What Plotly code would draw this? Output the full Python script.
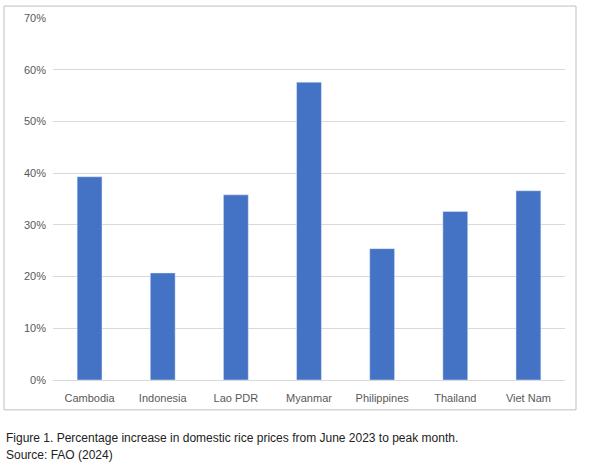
import plotly.graph_objects as go

countries = ["Cambodia", "Indonesia", "Lao PDR", "Myanmar", "Philippines", "Thailand", "Viet Nam"]
increase = [39.3, 20.7, 35.8, 57.6, 25.4, 32.6, 36.6]
yticks = [0, 10, 20, 30, 40, 50, 60, 70]
ytick_labels = [f"{v}%" for v in yticks]

W, H = 594, 466
L, T = 53, 16
pw, ph = 565 - 53, 380 - 16
R, B = W - L - pw, H - T - ph

def py(y):
    return (380 - y) / ph

def px(x):
    return (x - 53) / pw

fig = go.Figure(go.Bar(x=countries, y=increase, marker_color="#4472C4", width=0.34))
fig.update_layout(
    width=W, height=H, margin=dict(l=L, r=R, t=T, b=B),
    paper_bgcolor="white", plot_bgcolor="white", showlegend=False,
    font=dict(family="Liberation Sans, Arial", size=11, color="#595959"),
    xaxis=dict(showline=True, linecolor="#d9d9d9", ticks="", tickfont=dict(size=11),
               ticklabelstandoff=8),
    yaxis=dict(range=[0, 70], tickvals=yticks, ticktext=ytick_labels,
               gridcolor="#d9d9d9", zeroline=False, showline=False, ticklabelstandoff=6),
    shapes=[dict(type="rect", xref="paper", yref="paper",
                 x0=px(4), x1=px(576), y0=py(410), y1=py(4),
                 line=dict(color="#bfbfbf", width=1))],
    annotations=[
        dict(xref="paper", yref="paper", x=px(4), y=py(438),
             xanchor="left", yanchor="middle", showarrow=False, align="left",
             text="Figure 1. Percentage increase in domestic rice prices from June 2023 to peak month.",
             font=dict(size=12, color="#222222")),
        dict(xref="paper", yref="paper", x=px(4), y=py(455),
             xanchor="left", yanchor="middle", showarrow=False, align="left",
             text="Source: FAO (2024)", font=dict(size=12, color="#222222")),
    ],
)
fig.write_html("out.html", config={"displayModeBar": False},
               post_script="document.body.style.margin='0px';document.body.style.overflow='hidden';")
